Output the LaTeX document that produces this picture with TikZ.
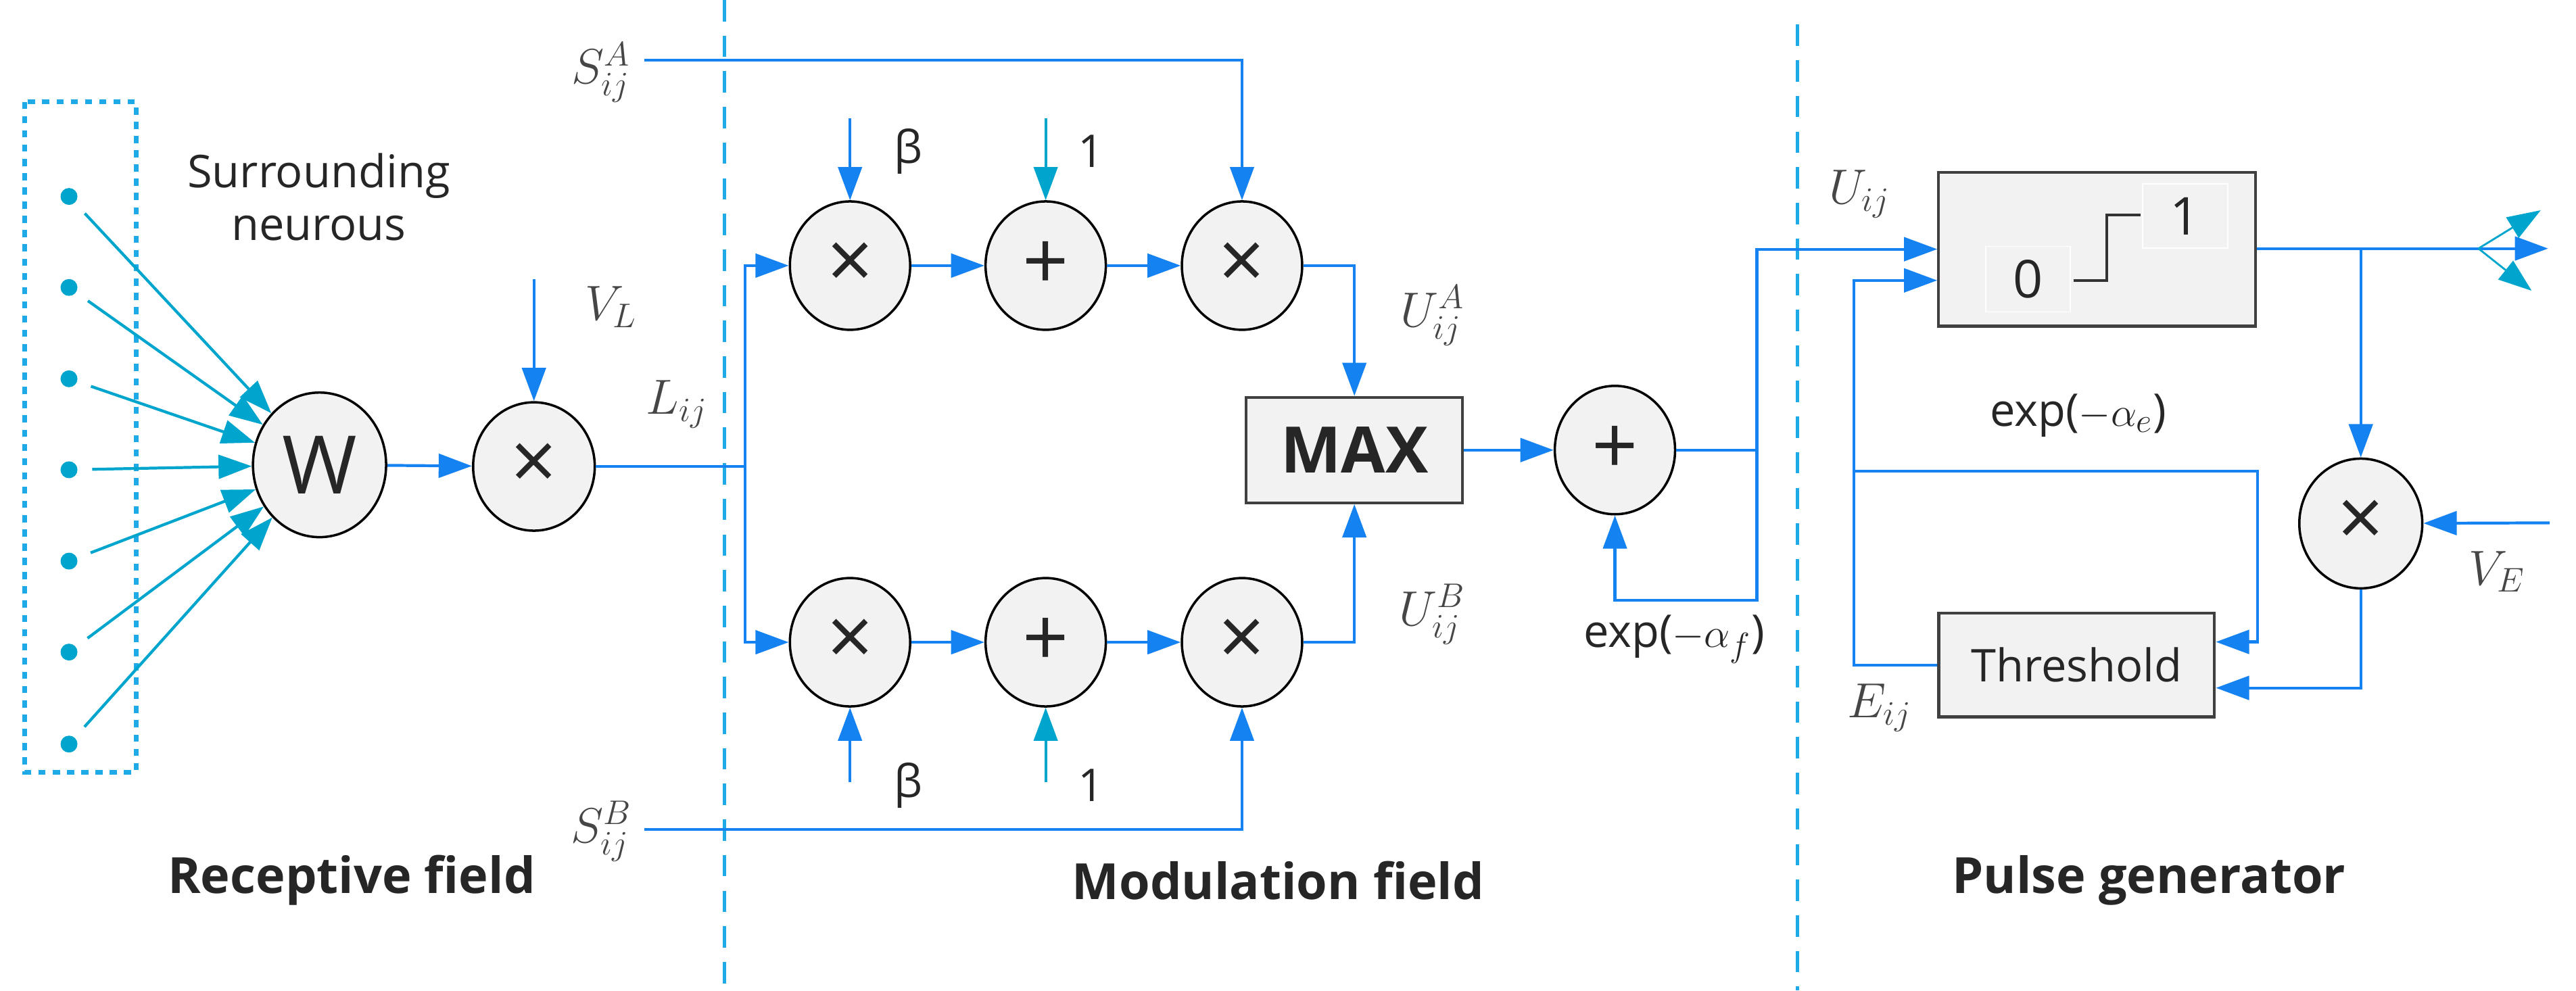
\documentclass[tikz,border=0pt]{standalone}
\usepackage{fontspec}
\setmainfont{Open Sans}
\usetikzlibrary{shapes.geometric,arrows.meta,calc}
\definecolor{cblue}{RGB}{20,130,240}
\definecolor{ccyan}{RGB}{0,165,205}
\definecolor{dcyan}{RGB}{30,170,230}
\definecolor{opfill}{RGB}{242,242,242}
\definecolor{mgray}{RGB}{70,70,70}
\begin{document}
\begin{tikzpicture}[x=0.0243cm,y=-0.0243cm,
 op/.style={ellipse,draw=black,line width=1pt,fill=opfill,inner sep=0,minimum width=1.78cm,minimum height=1.9cm,font=\fontsize{34}{34}\selectfont,text=black!85},
 bx/.style={rectangle,draw=black!75,line width=1.2pt,fill=opfill,inner sep=0},
 conn/.style={draw=cblue,line width=1.2pt,-{Triangle[length=14pt,width=10pt]}},
 cconn/.style={draw=ccyan,line width=1.2pt,-{Triangle[length=14pt,width=10pt]}},
 line/.style={draw=cblue,line width=1.2pt},
 mlab/.style={text=mgray,font=\fontsize{22}{22}\selectfont},
 tlab/.style={text=black!85,font=\fontsize{19}{22}\selectfont},
 blab/.style={text=black!85,font=\fontsize{21}{24}\selectfont\bfseries},
 dot/.style={circle,fill=ccyan,inner sep=0,minimum size=0.25cm}]
\useasboundingbox (0,0) rectangle (1568,603);
% separators
\draw[dcyan,line width=1.5pt,dash pattern=on 9pt off 6pt] (441,0) -- (441,603);
\draw[dcyan,line width=1.5pt,dash pattern=on 9pt off 6pt] (1094,15) -- (1094,603);
\draw[dcyan,line width=2pt,dash pattern=on 3pt off 3pt] (15,62) rectangle (83,470);
% receptive field
\foreach \i/\y in {1/119.6,2/175,3/230.6,4/286,5/341.6,6/397,7/453}
  \node[dot] (d\i) at (42,\y) {};
\node[op,minimum width=1.97cm,minimum height=2.14cm] (W) at (194.5,283) {W};
\foreach \i in {1,...,7} \draw[cconn,shorten <=6pt] (d\i) -- (W);
\node[tlab,align=center] (sn) at (194,120) {Surrounding\\neurous};
\node[op,minimum width=1.8cm] (m1) at (325,284) {×};
\coordinate (vl) at (325,170);
\draw[conn] (W) -- (m1);
\draw[conn] (vl) -- (m1);
\node[mlab] (VL) at (372,187) {$V_L$};
\node[mlab] (L) at (412,246) {$L_{ij}$};
\coordinate (br) at (453.6,284);
\draw[line] (m1) -- (br);
% modulation
\node[op] (t1) at (517.4,161.7) {×};
\node[op] (t2) at (636.5,161.7) {+};
\node[op] (t3) at (756,161.7) {×};
\node[op] (b1) at (517.4,391) {×};
\node[op] (b2) at (636.5,391) {+};
\node[op] (b3) at (756,391) {×};
\draw[conn] (br) |- (t1);
\draw[conn] (br) |- (b1);
\draw[conn] (t1) -- (t2); \draw[conn] (t2) -- (t3);
\draw[conn] (b1) -- (b2); \draw[conn] (b2) -- (b3);
\coordinate (bt1) at (517.4,72); \coordinate (ot1) at (636.5,72);
\coordinate (bb1) at (517.4,476); \coordinate (ob1) at (636.5,476);
\draw[conn] (bt1) -- (t1); \draw[cconn] (ot1) -- (t2);
\draw[conn] (bb1) -- (b1); \draw[cconn] (ob1) -- (b2);
\node[tlab] at (553,92) {β}; \node[tlab] at (664,92) {1};
\node[tlab] at (553,478) {β}; \node[tlab] at (664,478) {1};
\coordinate (sa) at (392,36.7); \coordinate (sb) at (392,505);
\draw[conn] (sa) -| (t3);
\draw[conn] (sb) -| (b3);
\node[mlab] (SA) at (366,44) {$S^A_{ij}$};
\node[mlab] (SB) at (366,506) {$S^B_{ij}$};
\node[bx,minimum width=3.2cm,minimum height=1.56cm,font=\fontsize{27}{27}\selectfont\bfseries,text=black!85] (max) at (824.4,274) {MAX};
\draw[conn] (t3) -| (max);
\draw[conn] (b3) -| (max);
\node[mlab] at (872,192) {$U^A_{ij}$};
\node[mlab] at (872,374) {$U^B_{ij}$};
\node[op] (plus) at (983,274) {+};
\draw[conn] (max) -- (plus);
\coordinate (j1) at (1069.4,274);
\coordinate (fb) at (983,365.6);
\draw[line] (plus) -- (j1);
\draw[conn] (j1) |- (fb) -- (plus);
\node[tlab] at (1019,389) {exp($-\alpha_f$)};
% pulse generator
\node[bx,minimum width=4.69cm,minimum height=2.28cm] (box) at (1276.5,151.7) {};
\draw[conn] (j1) |- (box.west);
\node[mlab] at (1132,118) {$U_{ij}$};
\node[draw=white,line width=0.5pt,minimum width=1.25cm,minimum height=0.97cm,inner sep=0,font=\fontsize{22}{22}\selectfont,text=black!85] (z0) at (1234.3,170) {0};
\node[draw=white,line width=0.5pt,minimum width=1.26cm,minimum height=0.95cm,inner sep=0,font=\fontsize{22}{22}\selectfont,text=black!85] (z1) at (1330,131.5) {1};
\draw[black!80,line width=1pt] (1262,170.7) -- (1282.3,170.7) -- (1282.3,130.8) -- (1303,130.8);
\node[bx,minimum width=4.08cm,minimum height=1.54cm,font=\fontsize{19}{19}\selectfont,text=black!85] (thr) at (1264,404.8) {Threshold};
\node[op,minimum width=1.82cm,minimum height=1.92cm] (mE) at (1437,318.7) {×};
\coordinate (jo) at (1437,151.3);
\coordinate (out) at (1551,151.3);
\draw[conn] (box.east|-jo) -- (out);
\draw[conn] (jo) -- (mE);
\coordinate (ve) at (1552,318.3);
\draw[conn] (ve) -- (mE);
\node[mlab] at (1520,348) {$V_E$};
\draw[conn] (mE) |- ($(thr.east)+(0,14)$);
\coordinate (fl) at (1128.5,170.7);
\coordinate (fj) at (1128.5,286.7);
\coordinate (fr) at (1374,286.7);
\draw[conn] (thr.west) -| (fl) -- ($(box.west)+(0,19)$);
\draw[conn] (fj) -- (fr) |- ($(thr.east)+(0,-14)$);
\node[tlab] at (1265,253) {exp($-\alpha_e$)};
\node[mlab] at (1144,431) {$E_{ij}$};
\coordinate (oc) at (1508.6,151.3);
\coordinate (oa) at (1546.5,128);
\coordinate (ob) at (1541,177);
\draw[cconn,line width=0.8pt] (oc) -- (oa);
\draw[cconn,line width=0.8pt] (oc) -- (ob);
% section titles
\node[blab] at (214,536) {Receptive field};
\node[blab] at (778,536) {Modulation field};
\node[blab] at (1308,536) {Pulse generator};
\end{tikzpicture}
\end{document}
